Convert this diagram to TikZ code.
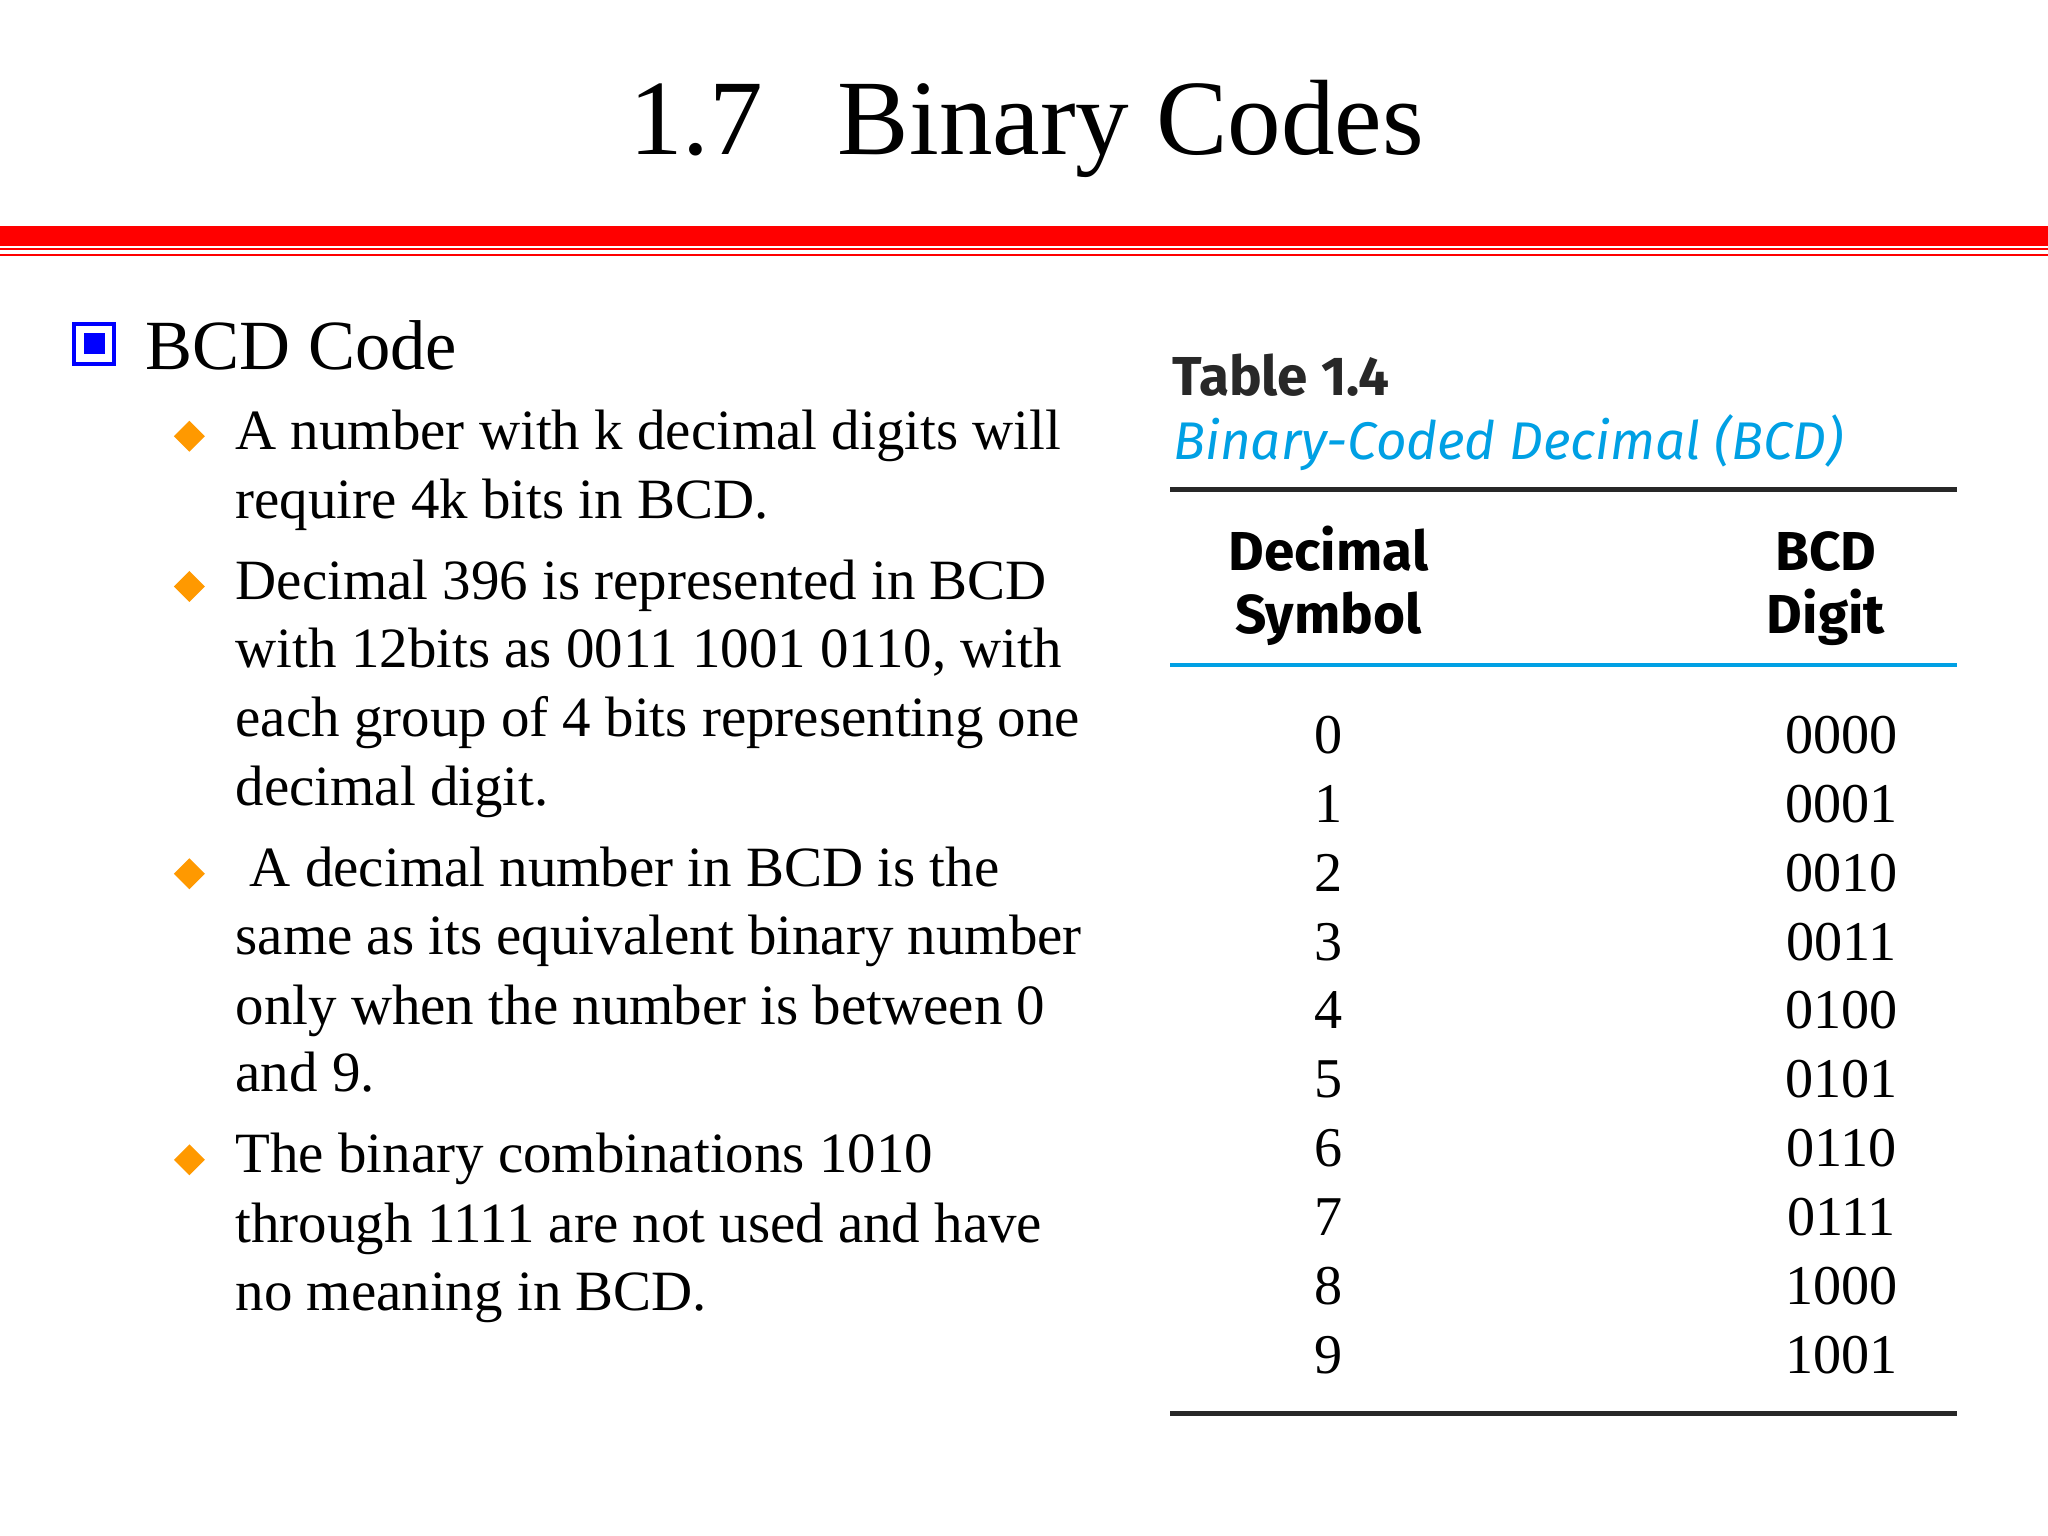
\documentclass[tikz,border=0pt]{standalone}
\usepackage{fontspec}
\setmainfont{Liberation Serif}
\newfontfamily\tabsans{Fira Sans}
\usetikzlibrary{shapes.geometric}
\definecolor{cyanblue}{RGB}{0,160,228}
\definecolor{orng}{RGB}{255,153,0}
\definecolor{rulegray}{RGB}{40,40,40}
\tikzset{
  body/.style={anchor=base west,inner sep=0,font=\fontsize{21.8}{26}\selectfont},
  dia/.style={diamond,fill=orng,inner sep=0,minimum width=12pt,minimum height=12pt},
  num/.style={anchor=base,inner sep=0,font=\fontsize{21.5}{26}\selectfont},
  hdr/.style={anchor=base,inner sep=0,font=\tabsans\bfseries\fontsize{21}{25}\selectfont},
}
\begin{document}
\begin{tikzpicture}[x=0.5pt,y=-0.5pt]
\useasboundingbox (0,0) rectangle (1568,1176);
\fill[white] (0,0) rectangle (1568,1176);
% title
\node[anchor=base,inner sep=0,font=\fontsize{41}{48}\selectfont] (title) at (786,118) {1.7\hspace{0.7em}Binary Codes};
% red rules
\fill[red] (0,173) rectangle (1568,188);
\fill[red] (0,190.2) rectangle (1568,191.6);
\fill[red] (0,194.6) rectangle (1568,196);
% heading
\draw[blue,line width=1.6pt] (56.5,248) rectangle (87.5,278.5);
\fill[blue] (64.6,255) rectangle (80.6,271);
\node[anchor=base west,inner sep=0,font=\fontsize{27}{32}\selectfont] (h) at (111,283) {BCD Code};
% bullets
\node[dia] (d1) at (145,334) {};
\node[dia] (d2) at (145,449) {};
\node[dia] (d3) at (145,669) {};
\node[dia] (d4) at (145,888) {};
\node[body] (l1) at (180,344) {A number with k decimal digits will};
\node[body] (l2) at (180,397) {require 4k bits in BCD.};
\node[body] (l3) at (180,459) {Decimal 396 is represented in BCD};
\node[body] (l4) at (180,511) {with 12bits as 0011 1001 0110, with};
\node[body] (l5) at (180,564) {each group of 4 bits representing one};
\node[body] (l6) at (180,617) {decimal digit.};
\node[body] (l7) at (180,679) {\ A decimal number in BCD is the};
\node[body] (l8) at (180,731) {same as its equivalent binary number};
\node[body] (l9) at (180,784) {only when the number is between 0};
\node[body] (l10) at (180,836) {and 9.};
\node[body] (l11) at (180,898) {The binary combinations 1010};
\node[body] (l12) at (180,951) {through 1111 are not used and have};
\node[body] (l13) at (180,1003) {no meaning in BCD.};
% table
\node[anchor=base west,inner sep=0,font=\tabsans\bfseries\fontsize{21}{25}\selectfont,text=rulegray] (tt) at (897,303) {Table 1.4};
\node[anchor=base west,inner sep=0,font=\tabsans\itshape\fontsize{20.3}{25}\selectfont,text=cyanblue] (tc) at (898,352) {Binary-Coded Decimal (BCD)};
\coordinate (r1a) at (896,375); \coordinate (r1b) at (1498,375);
\coordinate (r2a) at (896,509); \coordinate (r2b) at (1498,509);
\coordinate (r3a) at (896,1082); \coordinate (r3b) at (1498,1082);
\draw[rulegray,line width=2pt] (r1a) -- (r1b);
\draw[cyanblue,line width=1.6pt] (r2a) -- (r2b);
\draw[rulegray,line width=2pt] (r3a) -- (r3b);
\node[hdr] (hd1) at (1017,437) {Decimal};
\node[hdr] (hd2) at (1017,485) {Symbol};
\node[hdr] (hb1) at (1398,437) {BCD};
\node[hdr] (hb2) at (1398,485) {Digit};
\foreach \i/\b in {0/0000,1/0001,2/0010,3/0011,4/0100,5/0101,6/0110,7/0111,8/1000,9/1001}{
  \node[num] (dec\i) at (1017,{577+52.7*\i}) {\i};
  \node[num] (bcd\i) at (1410,{577+52.7*\i}) {\b};
}
\end{tikzpicture}
\end{document}
